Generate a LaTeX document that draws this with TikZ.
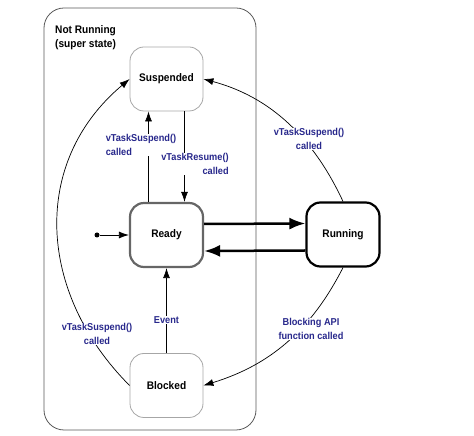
\documentclass[tikz,border=0pt]{standalone}
\usepackage{fontspec}
\setmainfont{Liberation Sans}[FakeStretch=0.92]
\usetikzlibrary{arrows.meta}
\definecolor{lbl}{RGB}{40,40,140}
\begin{document}
\begin{tikzpicture}[x=1pt,y=1pt,
  state/.style={rectangle, rounded corners=14pt, minimum width=73pt, minimum height=64pt,
    font=\fontsize{11}{13}\selectfont\bfseries},
  light/.style={state, draw=black!35, line width=0.8pt},
  heavy/.style={state, line width=2.2pt},
  lab/.style={font=\fontsize{10}{13.5}\selectfont\bfseries, text=lbl, fill=white, inner sep=1pt},
  arr/.style={-{Latex[length=10pt,width=7pt]}, line width=0.7pt},
  thickarr/.style={-{Latex[length=16pt,width=12pt]}, line width=2.5pt}]
\useasboundingbox (0,0) rectangle (474,436);
% super state
\node[draw=black!65, line width=0.8pt, rounded corners=20pt, minimum width=212pt, minimum height=422pt] (super) at (150,217) {};
\node[anchor=north west, align=left, font=\fontsize{11}{14.5}\selectfont\bfseries, inner sep=0pt] (title) at (55,411) {Not Running\\(super state)};
% states
\node[light] (susp) at (166.5,357) {Suspended};
\node[heavy, draw=black!60] (ready) at (166.5,201) {Ready};
\node[light] (blk) at (166.5,50.5) {Blocked};
\node[heavy, draw=black] (run) at (343,201.5) {Running};
\node[circle, fill=black, inner sep=0pt, minimum size=5pt] (init) at (97,201) {};
% connectors
\draw[arr] (init) -- (ready);
\draw[arr] ([xshift=-18pt]ready.north) -- ([xshift=-18pt]susp.south);
\draw[arr] ([xshift=18pt]susp.south) -- ([xshift=18pt]ready.north);
\draw[thickarr] ([yshift=11pt]ready.east) -- ([yshift=11pt]run.west);
\draw[thickarr] ([yshift=-16pt]run.west) -- ([yshift=-16pt]ready.east);
\draw[arr] (blk) -- (ready);
\draw[arr] (run.north) .. controls +(115:70) and +(-15:70) .. (susp.east);
\draw[arr] (run.south) .. controls +(-117:70) and +(17:70) .. (blk.east);
\draw[arr] (blk.west) .. controls +(135:130) and +(-140:130) .. (susp.west);
% labels
\node[lab, align=left] (l1) at (141,291) {vTaskSuspend()\\called};
\node[lab, align=right] (l2) at (195,272) {vTaskResume()\\called};
\node[lab, align=center] (l3) at (309,297) {vTaskSuspend()\\called};
\node[lab, align=center] (l4) at (311,107) {Blocking API\\function called};
\node[lab, align=center] (l5) at (97,102) {vTaskSuspend()\\called};
\node[lab] (l6) at (166.5,116) {Event};
\end{tikzpicture}
\end{document}
